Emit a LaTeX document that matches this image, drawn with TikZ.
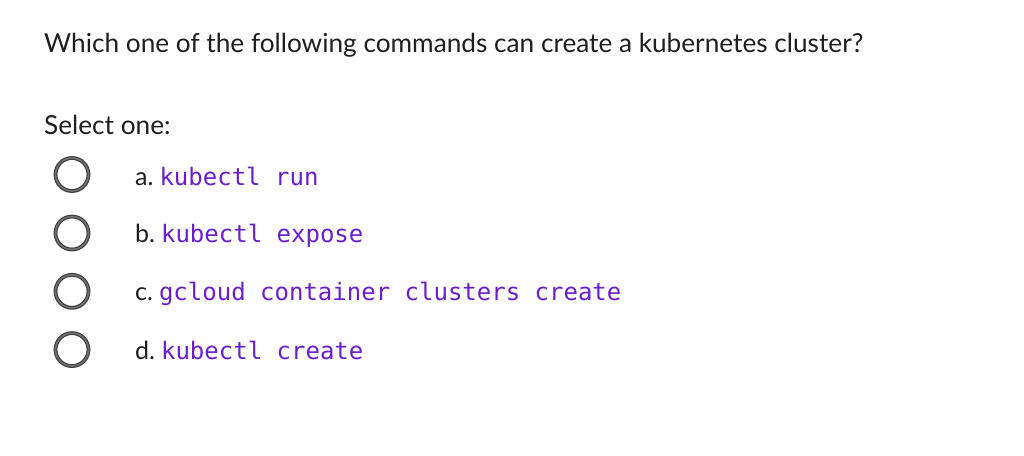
\documentclass[tikz,border=0pt]{standalone}
\usepackage{fontspec}
\setmainfont{Lato}
\newfontfamily\codefont{DejaVu Sans Mono}
\definecolor{codepurple}{RGB}{106,30,206}
\definecolor{ringdark}{RGB}{60,60,60}
\definecolor{ringmid}{RGB}{112,112,112}
\begin{document}
\begin{tikzpicture}[x=1pt,y=-1pt,
  txt/.style={anchor=base west,inner sep=0pt,font=\fontsize{26.2}{30}\selectfont,text=black!88},
  opt/.style={anchor=base west,inner sep=0pt,font=\fontsize{25}{28}\selectfont,text=black!88},
  radio/.style={circle,minimum size=33pt,inner sep=0pt,draw=ringdark,line width=3.8pt},
  radioin/.style={circle,minimum size=33pt,inner sep=0pt,draw=ringmid,line width=1.6pt}]
\useasboundingbox[fill=white] (0,0) rectangle (1024,455);
\node[txt] (q) at (44,52) {Which one of the following commands can create a kubernetes cluster?};
\node[txt] (sel) at (44,134) {Select one:};
\foreach \n/\yc in {a/174.5,b/233,c/291.3,d/349.6}{
  \node[radio] (r\n) at (72,\yc) {};
  \node[radioin] (ri\n) at (72,\yc) {};
}
\node[opt] (oa) at (135,185) {a.\hspace{6pt}{\fontsize{24}{28}\codefont\color{codepurple}kubectl run}};
\node[opt] (ob) at (135,242) {b.\hspace{6pt}{\fontsize{24}{28}\codefont\color{codepurple}kubectl expose}};
\node[opt] (oc) at (135,300.5) {c.\hspace{6pt}{\fontsize{24}{28}\codefont\color{codepurple}gcloud container clusters create}};
\node[opt] (od) at (135,359) {d.\hspace{6pt}{\fontsize{24}{28}\codefont\color{codepurple}kubectl create}};
\end{tikzpicture}
\end{document}
